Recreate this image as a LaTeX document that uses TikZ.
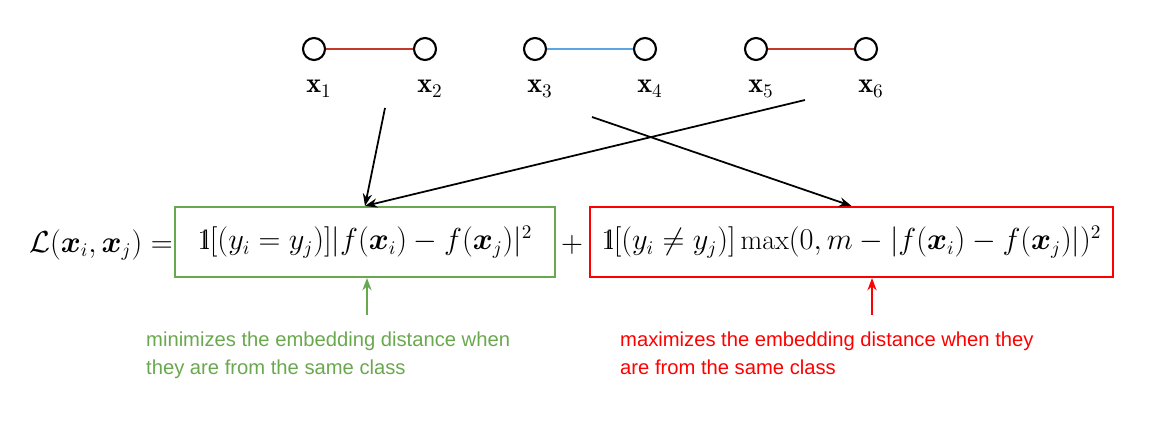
\documentclass[tikz,border=0pt]{standalone}
\usepackage{amsmath,amssymb,bm}
\usepackage{fontspec}
\usetikzlibrary{arrows.meta}
\newfontfamily\arialf{Liberation Sans}
\newcommand{\indic}{\mathrm{1\mkern-4.5mu l}}
\definecolor{gr}{HTML}{6AA84F}
\definecolor{rd}{HTML}{FF0000}
\definecolor{dr}{HTML}{C0392B}
\definecolor{bl}{HTML}{5DA5E0}
\begin{document}
\begin{tikzpicture}[x=0.02cm,y=-0.02cm,
  pt/.style={circle,draw,line width=1.2pt,minimum size=0.44cm,inner sep=0},
  lab/.style={font=\fontsize{16}{18}\selectfont},
  eq/.style={font=\fontsize{16}{19}\selectfont,inner sep=0},
  arr/.style={-{Stealth[length=7pt]},line width=1pt},
  note/.style={font=\arialf\fontsize{11.5}{16}\selectfont,align=left,anchor=north west}]
\useasboundingbox (0,0) rectangle (1175,432);
\foreach \n/\x in {1/314,2/425,3/535,4/645,5/756,6/866}{
  \node[pt] (p\n) at (\x,49) {};
  \node[lab] (l\n) at (\x+5,89) {$\mathbf{x}_\n$};
}
\draw[dr,line width=1.2pt] (p1)--(p2);
\draw[bl,line width=1.2pt] (p3)--(p4);
\draw[dr,line width=1.2pt] (p5)--(p6);
\node[draw=gr,line width=1.2pt,minimum width=380*0.02cm,minimum height=70*0.02cm] (gb) at (365,242) {};
\node[draw=rd,line width=1.2pt,minimum width=523*0.02cm,minimum height=70*0.02cm] (rb) at (851.5,242) {};
\node[eq,anchor=east] (lhs) at (173,245) {$\mathcal{L}(\bm{x}_i,\bm{x}_j)=$};
\node[eq] (gt) at (gb) {$\indic[(y_i=y_j)]|f(\bm{x}_i)-f(\bm{x}_j)|^2$};
\node[eq] (plus) at (572,245) {$+$};
\node[eq] (rt) at (rb) {$\indic[(y_i\neq y_j)]\max(0,m-|f(\bm{x}_i)-f(\bm{x}_j)|)^2$};
\coordinate (a1) at (385,108);
\coordinate (a2) at (805,100);
\coordinate (a3) at (592,117);
\draw[arr] (a1) -- (gb.north);
\draw[arr] (a2) -- (gb.north);
\draw[arr] (a3) -- (rb.north);
\coordinate (g0) at (367,315);
\coordinate (r0) at (872,315);
\draw[arr,gr] (g0) -- (gb.south -| g0);
\draw[arr,rd] (r0) -- (rb.south -| r0);
\node[note,text=gr] (gn) at (140,326) {minimizes the embedding distance when\\they are from the same class};
\node[note,text=rd] (rn) at (614,326) {maximizes the embedding distance when they\\are from the same class};
\end{tikzpicture}
\end{document}
